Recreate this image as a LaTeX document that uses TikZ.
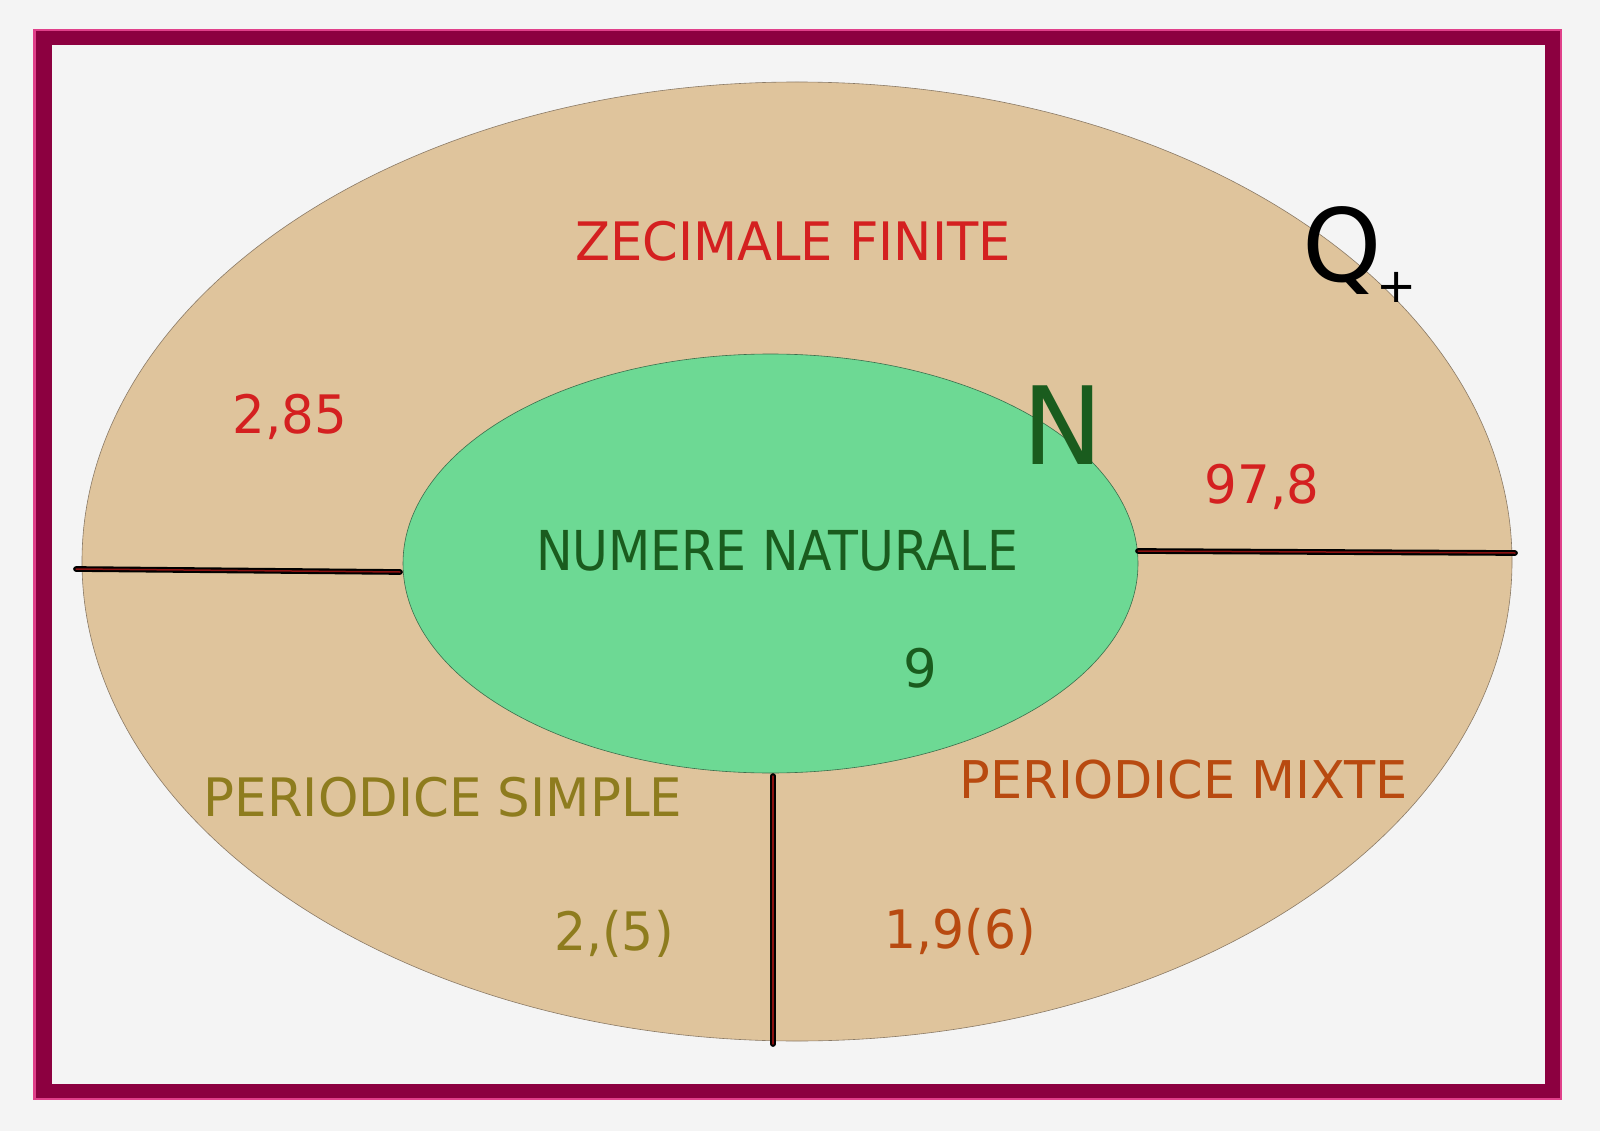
\documentclass[tikz,border=0pt]{standalone}
\usepackage{fontspec}
\usepackage{graphicx}
\setmainfont{DejaVu Sans}
\usetikzlibrary{shapes.geometric}
\definecolor{bgc}{HTML}{F4F4F4}
\definecolor{framepink}{HTML}{E0408A}
\definecolor{framedark}{HTML}{8C0040}
\definecolor{tan}{HTML}{DFC49C}
\definecolor{tanline}{HTML}{8A7A66}
\definecolor{greenfill}{HTML}{6DD994}
\definecolor{greenline}{HTML}{3C6E4C}
\definecolor{redtxt}{HTML}{D42020}
\definecolor{greentxt}{HTML}{1A5C1E}
\definecolor{olivetxt}{HTML}{8E7C1E}
\definecolor{browntxt}{HTML}{B84A10}
\definecolor{linered}{HTML}{8B1010}
\newcommand{\Txt}[3]{{\fontsize{#1}{#1}\selectfont\scalebox{#2}[1]{#3}}}
\tikzset{
  lbl/.style={inner sep=0pt, anchor=base},
  divider/.style={draw=black, line width=2.1pt, double=linered, double distance=1.5pt, line cap=round},
}
\begin{document}
\begin{tikzpicture}[x=1pt,y=-1pt]
\useasboundingbox (0,0) rectangle (1600,1131);
\fill[bgc] (0,0) rectangle (1600,1131);
% frame
\fill[framepink] (33,29) rectangle (1562,1100);
\fill[framedark] (35.5,31) rectangle (1559.5,1098);
\fill[bgc] (52,45) rectangle (1545,1084);
% ellipses
\node[ellipse, fill=tan, draw=tanline, line width=0.6pt, minimum width=1430pt, minimum height=959pt, inner sep=0pt] (Qset) at (797,561.5) {};
\node[ellipse, fill=greenfill, draw=greenline, line width=0.6pt, minimum width=735pt, minimum height=419pt, inner sep=0pt] (Nset) at (770.5,563.5) {};
% dividers
\coordinate (l1) at (76,569);
\coordinate (l2) at (400,572);
\coordinate (r1) at (1138,551);
\coordinate (r2) at (1515,553);
\coordinate (v1) at (773,776);
\coordinate (v2) at (773,1044);
\draw[divider] (l1) -- (l2);
\draw[divider] (r1) -- (r2);
\draw[divider] (v1) -- (v2);
% labels
\node[lbl, text=redtxt] (zf) at (793,261) {\Txt{53}{0.965}{ZECIMALE FINITE}};
\node[lbl, text=redtxt] (a285) at (290,433) {\Txt{53}{0.97}{2,85}};
\node[lbl, text=redtxt] (a978) at (1262,503) {\Txt{53}{0.97}{97,8}};
\node[lbl, text=greentxt] (nn) at (777,570) {\Txt{55}{0.89}{NUMERE NATURALE}};
\node[lbl, text=greentxt] (bigN) at (1063,464) {\Txt{108}{1}{N}};
\node[lbl, text=greentxt] (nine) at (920,687) {\Txt{53}{1}{9}};
\node[lbl, text=olivetxt] (ps) at (443,816) {\Txt{53}{0.97}{PERIODICE SIMPLE}};
\node[lbl, text=browntxt] (pm) at (1184,798) {\Txt{52}{0.98}{PERIODICE MIXTE}};
\node[lbl, text=olivetxt] (a25) at (614,950) {\Txt{53}{0.95}{2,(5)}};
\node[lbl, text=browntxt] (a196) at (960,948) {\Txt{53}{0.95}{1,9(6)}};
\node[lbl, text=black] (bigQ) at (1342,282) {\Txt{101}{1}{Q}};
\node[inner sep=0pt, text=black] (plus) at (1397,287) {\Txt{48}{1}{+}};
\end{tikzpicture}
\end{document}
